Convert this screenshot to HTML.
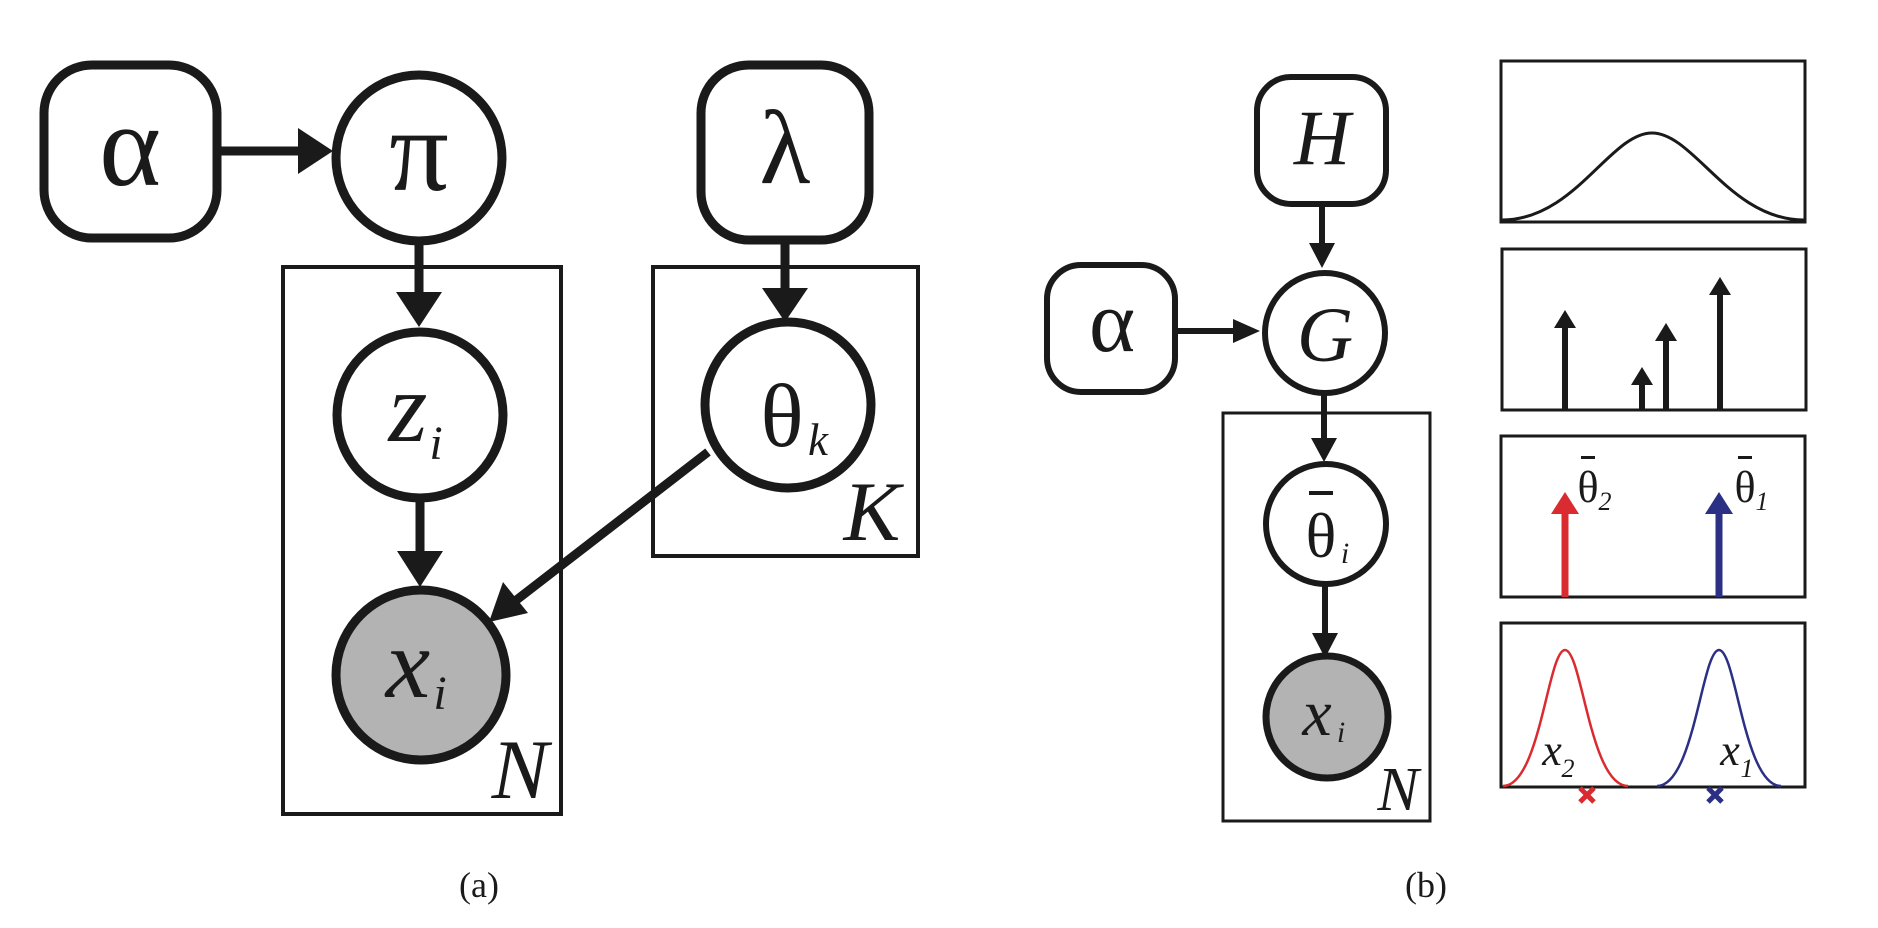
<!DOCTYPE html>
<html><head><meta charset="utf-8"><style>html,body{margin:0;padding:0;background:#fff}svg{display:block}</style></head>
<body>
<svg width="1878" height="928" viewBox="0 0 1878 928" xmlns="http://www.w3.org/2000/svg" font-family="Liberation Serif, serif" fill="#1a1a1a">
<rect width="1878" height="928" fill="#fff"/>
<!-- (a) plates -->
<rect x="283" y="267" width="278" height="547" fill="none" stroke="#1a1a1a" stroke-width="4"/>
<rect x="653" y="267" width="265" height="289" fill="none" stroke="#1a1a1a" stroke-width="4"/>
<!-- (a) edges -->
<g stroke="#1a1a1a" stroke-width="9">
<line x1="220" y1="151" x2="300" y2="151"/>
<line x1="419" y1="244" x2="419" y2="300"/>
<line x1="420" y1="500" x2="420" y2="552"/>
<line x1="785" y1="244" x2="785" y2="290"/>
<line x1="708" y1="452" x2="510" y2="605"/>
</g>
<polygon points="298,128 333,151 298,174"/>
<polygon points="396,292 442,292 419,327"/>
<polygon points="397,551 443,551 420,587"/>
<polygon points="762,288 808,288 785,322"/>
<polygon points="489,622 503,582 528,613"/>
<!-- (a) nodes -->
<rect x="44" y="65" width="173" height="173" rx="48" fill="#fff" stroke="#1a1a1a" stroke-width="9"/>
<rect x="701" y="65" width="168" height="175" rx="48" fill="#fff" stroke="#1a1a1a" stroke-width="9"/>
<circle cx="419" cy="158" r="83" fill="#fff" stroke="#1a1a1a" stroke-width="9"/>
<circle cx="420" cy="415" r="83" fill="#fff" stroke="#1a1a1a" stroke-width="9"/>
<circle cx="788" cy="405" r="83" fill="#fff" stroke="#1a1a1a" stroke-width="9"/>
<circle cx="421" cy="675" r="85" fill="#b3b3b3" stroke="#1a1a1a" stroke-width="9"/>
<text x="130" y="185" font-size="118" text-anchor="middle">α</text>
<text x="419" y="190" font-size="118" text-anchor="middle">π</text>
<text x="785" y="183" font-size="105" text-anchor="middle">λ</text>
<text x="408" y="441" font-size="100" font-style="italic" text-anchor="middle">z</text>
<text x="436" y="459" font-size="48" font-style="italic" text-anchor="middle">i</text>
<text x="782" y="446" font-size="90" text-anchor="middle">θ</text>
<text x="818" y="455" font-size="45" font-style="italic" text-anchor="middle">k</text>
<text x="408" y="697" font-size="100" font-style="italic" text-anchor="middle">x</text>
<text x="440" y="709" font-size="48" font-style="italic" text-anchor="middle">i</text>
<text x="520" y="798" font-size="85" font-style="italic" text-anchor="middle">N</text>
<text x="872" y="540" font-size="85" font-style="italic" text-anchor="middle">K</text>
<text x="479" y="897" font-size="36" text-anchor="middle">(a)</text>

<!-- (b) plate -->
<rect x="1223" y="413" width="207" height="408" fill="none" stroke="#1a1a1a" stroke-width="3"/>
<g stroke="#1a1a1a" stroke-width="6">
<line x1="1322" y1="206" x2="1322" y2="245"/>
<line x1="1176" y1="331" x2="1235" y2="331"/>
<line x1="1324" y1="395" x2="1324" y2="440"/>
<line x1="1325" y1="586" x2="1325" y2="635"/>
</g>
<polygon points="1309,243 1335,243 1322,268"/>
<polygon points="1233,319 1233,343 1260,331"/>
<polygon points="1311,438 1337,438 1324,462"/>
<polygon points="1312,633 1338,633 1325,658"/>
<rect x="1257" y="77" width="129" height="127" rx="34" fill="#fff" stroke="#1a1a1a" stroke-width="6"/>
<rect x="1047" y="265" width="128" height="127" rx="34" fill="#fff" stroke="#1a1a1a" stroke-width="6"/>
<circle cx="1325" cy="333" r="60" fill="#fff" stroke="#1a1a1a" stroke-width="6"/>
<circle cx="1326" cy="524" r="60" fill="#fff" stroke="#1a1a1a" stroke-width="6"/>
<circle cx="1327" cy="717" r="61" fill="#b3b3b3" stroke="#1a1a1a" stroke-width="7"/>
<text x="1322" y="164" font-size="78" font-style="italic" text-anchor="middle">H</text>
<text x="1325" y="361" font-size="78" font-style="italic" text-anchor="middle">G</text>
<text x="1112" y="351" font-size="88" text-anchor="middle">α</text>
<text x="1321" y="557" font-size="64" text-anchor="middle">θ</text>
<rect x="1309" y="491" width="24" height="4"/>
<text x="1345" y="563" font-size="30" font-style="italic" text-anchor="middle">i</text>
<text x="1317" y="735" font-size="66" font-style="italic" text-anchor="middle">x</text>
<text x="1341" y="742" font-size="30" font-style="italic" text-anchor="middle">i</text>
<text x="1398" y="810" font-size="62" font-style="italic" text-anchor="middle">N</text>
<text x="1426" y="897" font-size="36" text-anchor="middle">(b)</text>

<!-- right panels -->
<g fill="none" stroke="#1a1a1a" stroke-width="3">
<rect x="1501" y="61" width="304" height="161"/>
<rect x="1502" y="249" width="304" height="161"/>
<rect x="1501" y="436" width="304" height="161"/>
<rect x="1501" y="623" width="304" height="164"/>
<path d="M1502 220 C1575 220 1610 133 1652 133 C1694 133 1730 220 1804 220"/>
</g>
<g stroke="#1a1a1a" stroke-width="6">
<line x1="1565" y1="410" x2="1565" y2="325"/>
<line x1="1642" y1="410" x2="1642" y2="380"/>
<line x1="1666" y1="410" x2="1666" y2="337"/>
<line x1="1720" y1="410" x2="1720" y2="292"/>
</g>
<polygon points="1554,328 1576,328 1565,310"/>
<polygon points="1631,385 1653,385 1642,367"/>
<polygon points="1655,341 1677,341 1666,323"/>
<polygon points="1709,295 1731,295 1720,277"/>
<line x1="1565" y1="597" x2="1565" y2="510" stroke="#d92b30" stroke-width="7"/>
<polygon points="1551,514 1579,514 1565,492" fill="#d92b30"/>
<line x1="1719" y1="597" x2="1719" y2="510" stroke="#2b3085" stroke-width="7"/>
<polygon points="1705,514 1733,514 1719,492" fill="#2b3085"/>
<text x="1588" y="502" font-size="44" text-anchor="middle">θ</text>
<rect x="1581" y="456" width="14" height="3"/>
<text x="1605" y="510" font-size="26" font-style="italic" text-anchor="middle">2</text>
<text x="1745" y="502" font-size="44" text-anchor="middle">θ</text>
<rect x="1738" y="456" width="14" height="3"/>
<text x="1762" y="510" font-size="26" font-style="italic" text-anchor="middle">1</text>
<path d="M1503 786 C1540 786 1548 650 1565 650 C1582 650 1590 786 1628 786" fill="none" stroke="#d92b30" stroke-width="2.5"/>
<path d="M1657 786 C1694 786 1702 650 1719 650 C1736 650 1744 786 1781 786" fill="none" stroke="#2b3085" stroke-width="2.5"/>
<text x="1552" y="765" font-size="44" font-style="italic" text-anchor="middle">x</text>
<text x="1568" y="777" font-size="26" font-style="italic" text-anchor="middle">2</text>
<text x="1730" y="765" font-size="44" font-style="italic" text-anchor="middle">x</text>
<text x="1747" y="777" font-size="26" font-style="italic" text-anchor="middle">1</text>
<g stroke="#d92b30" stroke-width="5"><line x1="1580" y1="788" x2="1594" y2="802"/><line x1="1594" y1="788" x2="1580" y2="802"/></g>
<g stroke="#2b3085" stroke-width="5"><line x1="1708" y1="788" x2="1722" y2="802"/><line x1="1722" y1="788" x2="1708" y2="802"/></g>
</svg>
</body></html>
